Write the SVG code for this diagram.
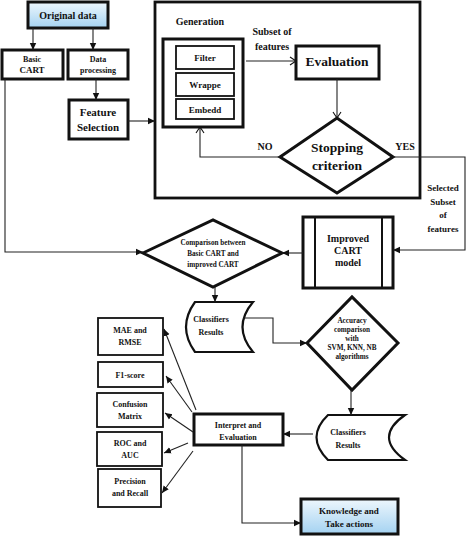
<svg xmlns="http://www.w3.org/2000/svg" width="474" height="540" viewBox="0 0 474 540">
<defs>
<linearGradient id="blue" x1="0" y1="0" x2="0" y2="1">
<stop offset="0" stop-color="#eef7fd"/>
<stop offset="1" stop-color="#a4d2f1"/>
</linearGradient>
<marker id="arr" markerUnits="userSpaceOnUse" markerWidth="8" markerHeight="8" refX="7" refY="4" orient="auto">
<path d="M0,0.8 L7,4 L0,7.2 Z" fill="#111"/>
</marker>
<marker id="chev" markerUnits="userSpaceOnUse" markerWidth="9" markerHeight="10" refX="7" refY="5" orient="auto">
<path d="M1,1 L7,5 L1,9" fill="none" stroke="#111" stroke-width="1.1"/>
</marker>
</defs>
<style>
text{font-family:"Liberation Serif","Times New Roman",serif;font-weight:bold;fill:#111;text-anchor:middle}
.box{fill:#fff;stroke:#111;stroke-width:3}
.thin{fill:#fff;stroke:#111;stroke-width:1.8}
.blue{fill:url(#blue);stroke:#111;stroke-width:3}
.ln{fill:none;stroke:#222;stroke-width:1.1}
.a{marker-end:url(#arr)}
.c{marker-end:url(#chev)}
.s9{font-size:9px}
.s8{font-size:8px}
.s7{font-size:7.2px}
.s10{font-size:10px}
.s11{font-size:11px}
.s13{font-size:13.5px}
</style>
<rect width="474" height="540" fill="#fff"/>

<g id="original-data">
<rect class="blue" x="28" y="2" width="80" height="26"/>
<text class="s10" x="68" y="19">Original data</text>
</g>
<g id="basic-cart">
<rect class="box" x="2" y="50" width="61" height="29"/>
<text class="s8" x="32" y="62">Basic</text>
<text class="s9" x="32" y="73">CART</text>
</g>
<g id="data-processing">
<rect class="box" x="68" y="50" width="60" height="29"/>
<text class="s8" x="98" y="62">Data</text>
<text class="s8" x="98" y="73">processing</text>
</g>
<g id="feature-selection">
<rect class="box" x="69" y="100" width="59" height="39"/>
<text class="s11" x="98" y="116">Feature</text>
<text class="s11" x="98" y="131">Selection</text>
</g>

<g id="feature-selection-process">
<rect x="155" y="2" width="265" height="196" fill="none" stroke="#111" stroke-width="2.8"/>
<text class="s10" x="200" y="25">Generation</text>
</g>
<g id="generation">
<rect class="box" x="163" y="39" width="80" height="88"/>
</g>
<g id="filter">
<rect class="thin" x="176" y="46" width="58" height="23"/>
<text class="s9" x="205" y="61">Filter</text>
</g>
<g id="wrapper">
<rect class="thin" x="176" y="73" width="58" height="23"/>
<text class="s9" x="205" y="88">Wrappe</text>
</g>
<g id="embedded">
<rect class="thin" x="176" y="99" width="58" height="20"/>
<text class="s9" x="205" y="113">Embedd</text>
</g>
<g id="evaluation">
<rect class="box" x="296" y="46" width="83" height="33"/>
<text class="s13" x="337" y="66">Evaluation</text>
</g>
<g id="stopping-criterion">
<polygon points="280,157 337,118 393,157 337,193" fill="#fff" stroke="#111" stroke-width="3"/>
<text class="s13" x="337" y="152">Stopping</text>
<text class="s13" x="337" y="170">criterion</text>
</g>

<g id="improved-cart">
<rect class="box" x="303" y="217" width="90" height="71"/>
<line x1="315" y1="217" x2="315" y2="288" stroke="#111" stroke-width="2"/>
<line x1="382" y1="217" x2="382" y2="288" stroke="#111" stroke-width="2"/>
<text class="s10" x="348" y="242">Improved</text>
<text class="s10" x="348" y="254">CART</text>
<text class="s10" x="348" y="266">model</text>
</g>
<g id="comparison">
<polygon points="143,253 213,220 282,253 213,287" fill="#fff" stroke="#111" stroke-width="3"/>
<text class="s7" x="213" y="245">Comparison between</text>
<text class="s7" x="213" y="256">Basic CART and</text>
<text class="s7" x="213" y="267">improved CART</text>
</g>
<g id="classifiers-results-1">
<path d="M195,302 H253 Q232,327 253,352 H195 Q177,327 195,302 Z" fill="#fff" stroke="#111" stroke-width="2.2"/>
<text class="s8" x="211" y="322">Classifiers</text>
<text class="s8" x="211" y="335">Results</text>
</g>
<g id="accuracy-comparison">
<polygon points="307,343 352,297 398,343 352,390" fill="#fff" stroke="#111" stroke-width="3"/>
<text class="s7" x="352" y="323">Accuracy</text>
<text class="s7" x="352" y="332">comparison</text>
<text class="s7" x="352" y="341">with</text>
<text class="s7" x="352" y="350">SVM, KNN, NB</text>
<text class="s7" x="352" y="359">algorithms</text>
</g>
<g id="classifiers-results-2">
<path d="M328,415 H405 Q373,437 405,460 H328 Q305,437 328,415 Z" fill="#fff" stroke="#111" stroke-width="2.2"/>
<text class="s8" x="348" y="435">Classifiers</text>
<text class="s8" x="348" y="448">Results</text>
</g>
<g id="interpret-evaluation">
<rect class="box" x="194" y="414" width="89" height="31"/>
<text class="s8" x="238" y="428">Interpret and</text>
<text class="s8" x="238" y="440">Evaluation</text>
</g>
<g id="knowledge">
<rect class="blue" x="301" y="499" width="97" height="35"/>
<text class="s9" x="349" y="514">Knowledge and</text>
<text class="s9" x="349" y="527">Take actions</text>
</g>
<g id="mae-rmse">
<rect class="thin" x="98" y="318" width="65" height="37"/>
<text class="s8" x="130" y="333">MAE and</text>
<text class="s8" x="130" y="345">RMSE</text>
</g>
<g id="f1-score">
<rect class="thin" x="98" y="362" width="65" height="25"/>
<text class="s8" x="130" y="378">F1-score</text>
</g>
<g id="confusion-matrix">
<rect class="thin" x="97" y="393" width="66" height="34"/>
<text class="s8" x="130" y="407">Confusion</text>
<text class="s8" x="130" y="419">Matrix</text>
</g>
<g id="roc-auc">
<rect class="thin" x="97" y="432" width="65" height="34"/>
<text class="s8" x="130" y="446">ROC and</text>
<text class="s8" x="130" y="458">AUC</text>
</g>
<g id="precision-recall">
<rect class="thin" x="98" y="469" width="63" height="38"/>
<text class="s8" x="130" y="484">Precision</text>
<text class="s8" x="130" y="496">and Recall</text>
</g>

<g id="labels">
<text class="s10" x="272" y="35">Subset of</text>
<text class="s10" x="272" y="50">features</text>
<text class="s10" x="265" y="150">NO</text>
<text class="s10" x="405" y="150">YES</text>
<text class="s9" x="443" y="191">Selected</text>
<text class="s9" x="443" y="205">Subset</text>
<text class="s9" x="443" y="218">of</text>
<text class="s9" x="443" y="232">features</text>
</g>

<g id="connectors">
<path class="ln a" d="M33,28 V50"/>
<path class="ln a" d="M93,28 V50"/>
<path class="ln a" d="M96,79 V100"/>
<path class="ln a" d="M128,121 H155"/>
<path class="ln c" d="M246,61 H296"/>
<path class="ln c" d="M337,79 V118"/>
<path class="ln c" d="M280,157 H200 V127"/>
<path class="ln a" d="M393,157 H465 V250 H393"/>
<path class="ln a" d="M5,79 V252 H143"/>
<path class="ln a" d="M303,253 H282"/>
<path class="ln a" d="M215,287 V302"/>
<path class="ln a" d="M243,318 H273 V343 H307"/>
<path class="ln a" d="M351,390 V415"/>
<path class="ln a" d="M313,434 H283"/>
<path class="ln a" d="M242,445 V523 H301"/>
<path class="ln a" d="M196,410 L164,329"/>
<path class="ln a" d="M192,412 L166,376"/>
<path class="ln a" d="M193,432 L165,413"/>
<path class="ln a" d="M188,443 L164,453"/>
<path class="ln a" d="M193,451 L162,493"/>
</g>
</svg>
